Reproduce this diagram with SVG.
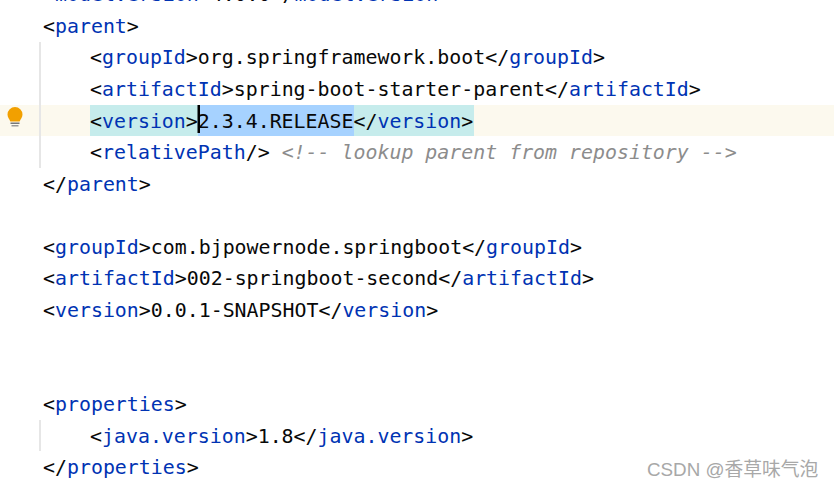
<svg xmlns="http://www.w3.org/2000/svg" width="834" height="488" viewBox="0 0 834 488">
<style>
text{font-family:"DejaVu Sans Mono","Liberation Mono",monospace;font-size:19.9px;fill:#080808;white-space:pre}
.t{fill:#0033b3}
.c{fill:#8c8c8c;font-style:italic}
.g{fill:#e6e6e6}
</style>
<rect width="834" height="488" fill="#fff"/>
<rect x="0" y="105" width="834" height="31" fill="#fcf9ee"/>
<rect x="90" y="105" width="384" height="31" fill="#c6ecec"/>
<rect x="198" y="105" width="156" height="31" fill="#a6d2ff"/>
<rect class="g" x="39" y="42" width="2" height="126"/>
<rect class="g" x="39" y="420" width="2" height="31"/>
<g id="bulb">
<path d="M15 107a7.500 7.500 0 0 1 7.500 7.500c0 3-2 4.500-2.800 7h-9.400c-.8-2.500-2.800-4-2.800-7a7.500 7.500 0 0 1 7.500-7.500z" fill="#f2a000"/>
<rect x="10.500" y="122.500" width="9" height="1.500" fill="#777"/>
<rect x="11.500" y="125" width="7" height="1.500" fill="#999"/>
</g>
<text y="1" x="43">&lt;<tspan class="t">modelVersion</tspan>&gt;4.0.0&lt;/<tspan class="t">modelVersion</tspan>&gt;</text>
<text y="33" x="43">&lt;<tspan class="t">parent</tspan>&gt;</text>
<text y="64" x="90">&lt;<tspan class="t">groupId</tspan>&gt;org.springframework.boot&lt;/<tspan class="t">groupId</tspan>&gt;</text>
<text y="95.500" x="90">&lt;<tspan class="t">artifactId</tspan>&gt;spring-boot-starter-parent&lt;/<tspan class="t">artifactId</tspan>&gt;</text>
<text y="127.500" x="90">&lt;<tspan class="t">version</tspan>&gt;2.3.4.RELEASE&lt;/<tspan class="t">version</tspan>&gt;</text>
<rect x="197.500" y="105" width="2.500" height="28" fill="#000"/>
<text y="158.500" x="90">&lt;<tspan class="t">relativePath</tspan>/&gt; <tspan class="c">&lt;!-- lookup parent from repository --&gt;</tspan></text>
<text y="190.500" x="43">&lt;/<tspan class="t">parent</tspan>&gt;</text>
<text y="253.500" x="43">&lt;<tspan class="t">groupId</tspan>&gt;com.bjpowernode.springboot&lt;/<tspan class="t">groupId</tspan>&gt;</text>
<text y="285" x="43">&lt;<tspan class="t">artifactId</tspan>&gt;002-springboot-second&lt;/<tspan class="t">artifactId</tspan>&gt;</text>
<text y="316.500" x="43">&lt;<tspan class="t">version</tspan>&gt;0.0.1-SNAPSHOT&lt;/<tspan class="t">version</tspan>&gt;</text>
<text y="410.500" x="43">&lt;<tspan class="t">properties</tspan>&gt;</text>
<text y="442.500" x="90">&lt;<tspan class="t">java.version</tspan>&gt;1.8&lt;/<tspan class="t">java.version</tspan>&gt;</text>
<text y="473.500" x="43">&lt;/<tspan class="t">properties</tspan>&gt;</text>
<text x="647" y="476" style="font-family:'Liberation Sans','Noto Sans CJK SC',sans-serif;font-size:18.800px;fill:#a8a8a8">CSDN @香草味气泡</text>
</svg>
